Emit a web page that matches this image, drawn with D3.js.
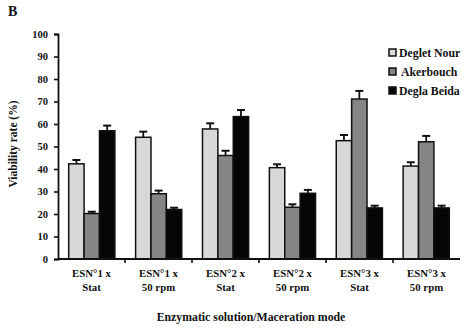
<!DOCTYPE html>
<html><head><meta charset="utf-8">
<script src="https://cdn.jsdelivr.net/npm/d3@7"></script>
<style>body{margin:0;background:#fff}svg{display:block}text{font-family:"Liberation Serif","Times New Roman",serif;font-weight:bold;fill:#111}</style>
</head><body><svg id="c" width="474" height="332"></svg>
<script>
const categories = [["ESN°1 x","Stat"],["ESN°1 x","50 rpm"],["ESN°2 x","Stat"],["ESN°2 x","50 rpm"],["ESN°3 x","Stat"],["ESN°3 x","50 rpm"]];
const seriesNames = ["Deglet Nour","Akerbouch","Degla Beida"];
const delgetNour = [42.3, 54.1, 57.8, 40.6, 52.6, 41.3];
const akerbouch = [20.2, 29.0, 46.0, 23.0, 71.1, 52.1];
const deglaBeida = [57.0, 22.0, 63.3, 29.2, 22.7, 22.7];
const errDN = [1.7, 2.5, 2.5, 1.5, 2.5, 1.7];
const errAK = [0.8, 1.4, 2.1, 1.3, 3.6, 2.6];
const errDB = [2.3, 0.8, 2.9, 1.5, 1.0, 1.0];
const yTicks = [0,10,20,30,40,50,60,70,80,90,100];
const colors = ["#d8d8d8","#858585","#050505"];

const FONT = "'Liberation Serif','Times New Roman',serif";
const svg = d3.select("#c");
const m = {l:58, r:14, t:34, b:73};
const W = 474, H = 332;
const x = d3.scaleBand().domain(d3.range(categories.length)).range([m.l, W - m.r]).paddingInner(0.31).paddingOuter(0.16);
const x1 = d3.scaleBand().domain(d3.range(3)).range([0, x.bandwidth()]);
const y = d3.scaleLinear().domain([0,100]).range([H - m.b, m.t]);
const values = [delgetNour, akerbouch, deglaBeida];
const errs = [errDN, errAK, errDB];

const data = [];
categories.forEach((c,i)=>values.forEach((v,s)=>data.push({i,s,v:v[i],e:errs[s][i]})));
const g = svg.append("g");
g.selectAll(".err").data(data).join("line")
  .attr("x1", d=>x(d.i)+x1(d.s)+x1.bandwidth()/2).attr("x2", d=>x(d.i)+x1(d.s)+x1.bandwidth()/2)
  .attr("y1", d=>y(d.v)).attr("y2", d=>y(d.v+d.e)).attr("stroke","#111").attr("stroke-width",1.8);
g.selectAll(".cap").data(data).join("line")
  .attr("x1", d=>x(d.i)+x1(d.s)+x1.bandwidth()/2-4).attr("x2", d=>x(d.i)+x1(d.s)+x1.bandwidth()/2+4)
  .attr("y1", d=>y(d.v+d.e)).attr("y2", d=>y(d.v+d.e)).attr("stroke","#111").attr("stroke-width",2);
g.selectAll("rect").data(data).join("rect")
  .attr("x", d=>x(d.i)+x1(d.s)).attr("width", x1.bandwidth())
  .attr("y", d=>y(d.v)).attr("height", d=>y(0)-y(d.v))
  .attr("fill", d=>colors[d.s]).attr("stroke","#111").attr("stroke-width",1.5);

const ya = svg.append("g").attr("transform",`translate(${m.l},0)`)
  .call(d3.axisLeft(y).tickValues(yTicks).tickSize(4).tickPadding(6));
ya.attr("font-family",FONT);
ya.select(".domain").attr("stroke","#111").attr("stroke-width",1.8);
ya.selectAll(".tick line").attr("stroke","#111").attr("stroke-width",1.6);
ya.selectAll("text").attr("font-size",10.5).attr("font-family",FONT).attr("font-weight","bold").attr("fill","#111");

const step = (W - m.r - m.l)/categories.length;
const xa = svg.append("g").attr("transform",`translate(0,${y(0)})`);
xa.append("line").attr("x1",m.l).attr("x2",W-m.r).attr("stroke","#111").attr("stroke-width",1.8);
xa.selectAll(".tk").data(d3.range(1,categories.length)).join("line")
  .attr("x1",d=>m.l+d*step).attr("x2",d=>m.l+d*step).attr("y1",0).attr("y2",4).attr("stroke","#111").attr("stroke-width",1.6);
const lab = xa.selectAll(".lab").data(categories).join("text")
  .attr("text-anchor","middle").attr("font-size",10.8).attr("font-family",FONT)
  .attr("transform",(d,i)=>`translate(${m.l+(i+0.5)*step},0)`);
lab.append("tspan").attr("x",0).attr("y",18).text(d=>d[0]);
lab.append("tspan").attr("x",0).attr("y",31.5).text(d=>d[1]);

svg.append("text").attr("x",251).attr("y",321).attr("text-anchor","middle").attr("font-size",11.8).attr("font-family",FONT).text("Enzymatic solution/Maceration mode");
svg.append("text").attr("transform","translate(17,144) rotate(-90)").attr("text-anchor","middle").attr("font-size",11.5).attr("font-family",FONT).text("Viability rate (%)");
svg.append("text").attr("x",8).attr("y",16).attr("font-size",14).attr("font-family",FONT).text("B");

const lg = svg.append("g").attr("transform","translate(389,48)");
seriesNames.forEach((n,i)=>{
  lg.append("rect").attr("x",0).attr("y",i*19+1).attr("width",7).attr("height",7).attr("fill",colors[i]).attr("stroke","#111").attr("stroke-width",1.5);
  lg.append("text").attr("x", i===1?12:10).attr("y",i*19+9).attr("font-size",11.8).attr("font-family",FONT).text(n);
});
</script></body></html>
